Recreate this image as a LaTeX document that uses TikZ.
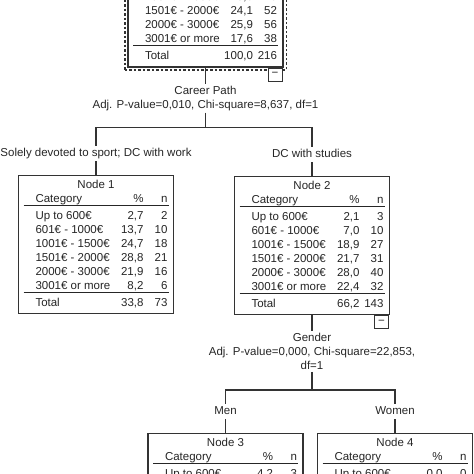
\documentclass[tikz,border=0pt]{standalone}
\usepackage{fontspec}
\setmainfont{Liberation Sans}
\usepackage{array}
\usetikzlibrary{positioning,fit,calc}
\definecolor{InkGray}{HTML}{262626}
\definecolor{LineGray}{HTML}{333333}
\setlength{\arrayrulewidth}{1pt}

% rule under a table row
\newcommand{\tabrule}{\\[-2pt]\hline\noalign{\vskip 4pt}}
% one tree node: title and rows
\newcommand{\nodetable}[2]{%
  \begin{tabular}{@{\hspace{12pt}}p{78pt}@{}>{\raggedleft\arraybackslash}p{30pt}@{}>{\raggedleft\arraybackslash}p{24pt}@{\hspace{1pt}}}
    \multicolumn{3}{c}{#1}\\
    Category & \% & n\tabrule
    #2
  \end{tabular}}

\begin{document}
\begin{tikzpicture}[x=1pt,y=1pt,
    every node/.style={text=InkGray,font=\fontsize{11.5}{14}\selectfont},
    tbox/.style={draw=LineGray,line width=1.1pt,inner xsep=5pt,inner ysep=3pt,fill=white},
    dashbox/.style={draw=LineGray,line width=1.1pt,dash pattern=on 2.5pt off 2pt,inner sep=2.5pt},
    minusbox/.style={draw=LineGray,line width=1pt,fill=white,minimum width=14pt,minimum height=13pt,inner sep=0pt},
    splitlbl/.style={align=center,inner sep=2pt},
    branchlbl/.style={inner sep=2pt,text height=8.5pt,text depth=2.5pt},
    wire/.style={draw=LineGray,line width=1.1pt}]
  \useasboundingbox (0,0) rectangle (474,-474);
  \clip (0,0) rectangle (474,-474);

  % root
  \node[tbox,anchor=south] (n0) at (205.5,-67.5) {\nodetable{Node 0}{%
    Up to 600€ & 2,3 & 5\\
    601€ - 1000€ & 9,3 & 20\\
    1001€ - 1500€ & 20,8 & 45\\
    1501€ - 2000€ & 24,1 & 52\\
    2000€ - 3000€ & 25,9 & 56\\
    3001€ or more & 17,6 & 38\tabrule
    Total & 100,0 & 216}};
  \node[dashbox,fit=(n0)] (n0f) {};
  \node[minusbox,anchor=north east] (n0m) at ($(n0.south east)+(-1,0)$) {−};
  \node[splitlbl,below=16pt of n0] (split0) {Career Path\\Adj. P-value=0,010, Chi-square=8,637, df=1};

  % career path
  \node[tbox,anchor=north] (n1) at (96,-175) {\nodetable{Node 1}{%
    Up to 600€ & 2,7 & 2\\
    601€ - 1000€ & 13,7 & 10\\
    1001€ - 1500€ & 24,7 & 18\\
    1501€ - 2000€ & 28,8 & 21\\
    2000€ - 3000€ & 21,9 & 16\\
    3001€ or more & 8,2 & 6\tabrule
    Total & 33,8 & 73}};
  \node[tbox,anchor=north] (n2) at (312,-176) {\nodetable{Node 2}{%
    Up to 600€ & 2,1 & 3\\
    601€ - 1000€ & 7,0 & 10\\
    1001€ - 1500€ & 18,9 & 27\\
    1501€ - 2000€ & 21,7 & 31\\
    2000€ - 3000€ & 28,0 & 40\\
    3001€ or more & 22,4 & 32\tabrule
    Total & 66,2 & 143}};
  \node[minusbox,anchor=north east] (n2m) at ($(n2.south east)+(-1,0)$) {−};
  \node[branchlbl,above=14pt of n1] (lab1) {Solely devoted to sport; DC with work};
  \node[branchlbl,above=14pt of n2] (lab2) {DC with studies};
  \coordinate (j0) at ($(split0.south)+(0,-15)$);

  \draw[wire] (n0.south) -- (split0.north);
  \draw[wire] (split0.south) -- (j0);
  \draw[wire] (lab1.north) |- (j0) -| (lab2.north);
  \draw[wire] (lab1.south) -- (n1.north);
  \draw[wire] (lab2.south) -- (n2.north);

  % gender
  \node[splitlbl,below=16pt of n2] (split2) {Gender\\Adj. P-value=0,000, Chi-square=22,853,\\df=1};
  \node[tbox,anchor=north] (n3) at (225.5,-433) {\nodetable{Node 3}{%
    Up to 600€ & 4,2 & 3\\[60pt]}};
  \node[tbox,anchor=north] (n4) at (395,-433) {\nodetable{Node 4}{%
    Up to 600€ & 0,0 & 0\\[60pt]}};
  \node[branchlbl,above=14pt of n3] (lab3) {Men};
  \node[branchlbl,above=14pt of n4] (lab4) {Women};
  \coordinate (j2) at ($(split2.south)+(0,-18)$);

  \draw[wire] (n2.south) -- (split2.north);
  \draw[wire] (split2.south) -- (j2);
  \draw[wire] (lab3.north) |- (j2) -| (lab4.north);
  \draw[wire] (lab3.south) -- (n3.north);
  \draw[wire] (lab4.south) -- (n4.north);
\end{tikzpicture}
\end{document}
